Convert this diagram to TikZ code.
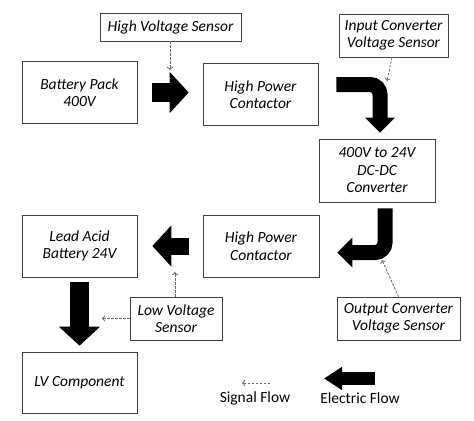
\documentclass[tikz,border=0pt]{standalone}
\usepackage{fontspec}
\setmainfont{Carlito}
\usetikzlibrary{arrows.meta}

\begin{document}
\begin{tikzpicture}
            [x=1bp,y=-1bp,
             every node/.style={font=\itshape\fontsize{15.5bp}{17.5bp}\selectfont,align=center,inner sep=0pt},
             block/.style={draw=black!75,line width=0.6bp,minimum width=115bp,minimum height=62bp},
             sensor/.style={draw=black!75,line width=0.6bp,minimum height=43bp},
             elec/.style={line width=19bp,-{Triangle[length=19bp,width=40bp]}},
             elbow/.style={line width=15bp,rounded corners=10bp,-{Triangle[length=15bp,width=29bp]}},
             signal/.style={draw=black!60,line width=0.8bp,dash pattern=on 2.5bp off 1.5bp,-{To[length=3bp,width=6bp]}}]
            \useasboundingbox (0,0) rectangle (474,420);
            \node[block] (bp)   at (79.5,92.5) {Battery Pack\\400V};
            \node[block] (hpc1) at (260.5,94.5) {High Power\\Contactor};
            \node[block,minimum width=116bp,minimum height=63bp] (dcdc) at (377,170.5) {400V to 24V\\DC-DC\\Converter};
            \node[block,minimum width=116bp] (hpc2) at (261,246) {High Power\\Contactor};
            \node[block] (lab)  at (79.5,246) {Lead Acid\\Battery 24V};
            \node[block,minimum height=61bp] (lvc)  at (79.5,382.5) {LV Component};
            
            % sensors
            \node[sensor,minimum width=141bp,minimum height=28bp] (hvs) at (170.5,27) {High Voltage Sensor};
            \node[sensor,minimum width=109bp] (ics) at (393.5,35.5) {Input Converter\\Voltage Sensor};
            \node[sensor,minimum width=123bp] (ocs) at (398.5,318.5) {Output Converter\\Voltage Sensor};
            \node[sensor,minimum width=92bp]  (lvs) at (176,318.5) {Low Voltage\\Sensor};
            
            \coordinate (hvsEnd) at (170,70);
            \coordinate (icsEnd) at (387,81);
            \coordinate (ocsEnd) at (382,260);
            \coordinate (lvsUp)  at (175,272);
            \coordinate (lvsLeft) at (102,318.5);
            
            % electric flow
            \draw[elec,shorten <=15bp,shorten >=14bp] (bp.east) -- (bp.east -| hpc1.west);
            \draw[elbow,shorten >=6bp] ([xshift=18bp,yshift=10bp]hpc1.east) -| ([xshift=3bp]dcdc.north);
            \draw[elbow,shorten <=6bp,shorten >=18bp] ([xshift=8bp]dcdc.south) |- ([yshift=-6.5bp]hpc2.east);
            \draw[elec,line width=17bp,shorten <=14bp,shorten >=15bp] (hpc2.west) -- (lab.east);
            \draw[elec,shorten <=5bp,shorten >=6bp] (lab.south) -- (lvc.north);
            
            % signal flow
            \draw[signal] (hvs.south -| hvsEnd) -- (hvsEnd);
            \draw[signal] ([xshift=-1.5bp]ics.south) -- (icsEnd);
            \draw[signal] (ocs.north) -- (ocsEnd);
            \draw[signal] (lvs.north -| lvsUp) -- (lvsUp);
            \draw[signal] (lvs.west) -- (lvsLeft);
            
            % legend
            \node[font=\fontsize{15.5bp}{17.5bp}\selectfont] (sf) at (255,398) {Signal Flow};
            \node[font=\fontsize{15.5bp}{17.5bp}\selectfont] (ef) at (360,398) {Electric Flow};
            \coordinate (sfA) at (270,383);
            \coordinate (sfB) at (242,383);
            \coordinate (efA) at (375,378.5);
            \coordinate (efB) at (324,378.5);
            \draw[signal] (sfA) -- (sfB);
            \draw[line width=13bp,-{Triangle[length=18bp,width=22bp]}] (efA) -- (efB);
        \end{tikzpicture}
\end{document}
